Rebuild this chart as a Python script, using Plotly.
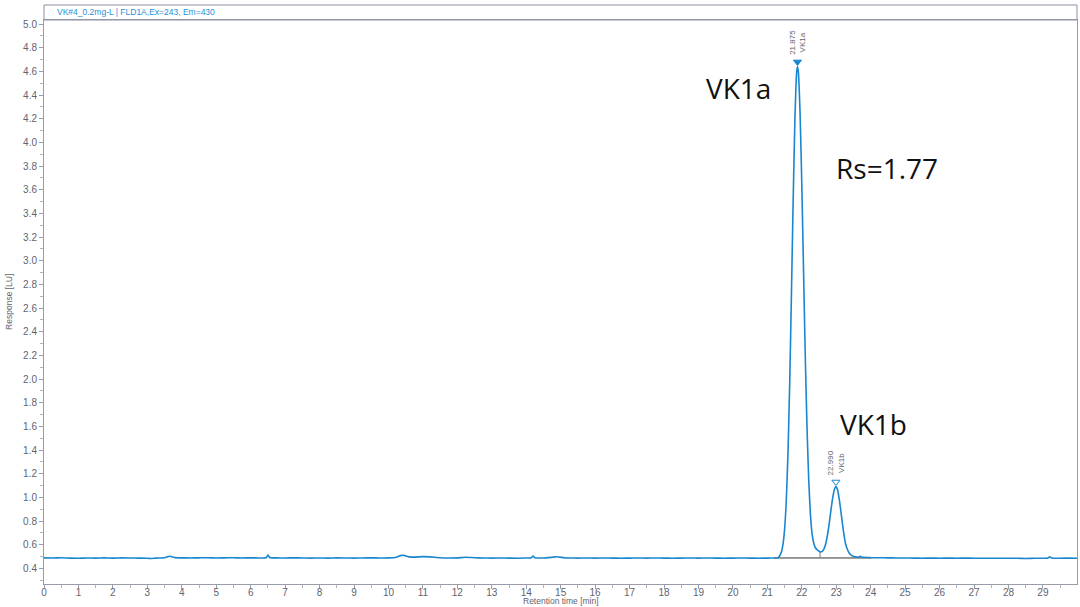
import plotly.graph_objects as go

# baseline before the peaks (min, LU)
base_a_time = [0.0, 0.25, 0.5, 0.75, 1.0, 1.25, 1.5, 1.75, 2.0, 2.25, 2.5, 2.75, 3.0, 3.1, 3.25, 3.5, 3.65, 3.8,
               4.0, 4.25, 4.5, 4.75, 5.0, 5.25, 5.5, 5.75, 6.0, 6.25, 6.45, 6.5, 6.55, 6.75, 7.0, 7.25, 7.5, 7.75,
               8.0, 8.25, 8.5, 8.75, 9.0, 9.25, 9.5, 9.75, 10.0, 10.2, 10.35, 10.45, 10.6, 10.75, 11.0, 11.2, 11.5,
               11.75, 12.0, 12.25, 12.5, 12.75, 13.0, 13.25, 13.5, 13.75, 14.0, 14.15, 14.2, 14.25, 14.5, 14.75,
               14.9, 15.1, 15.25, 15.5, 15.75, 16.0, 16.25, 16.5, 16.75, 17.0, 17.25, 17.5, 17.75, 18.0, 18.25,
               18.5, 18.75, 19.0, 19.25, 19.5, 19.75, 20.0, 20.25, 20.5, 20.75, 21.0, 21.25]
base_a_resp = [0.489, 0.488, 0.490, 0.487, 0.486, 0.488, 0.487, 0.489, 0.487, 0.489, 0.488, 0.487, 0.486, 0.483,
               0.487, 0.490, 0.502, 0.491, 0.489, 0.488, 0.489, 0.490, 0.488, 0.489, 0.490, 0.488, 0.489, 0.488,
               0.490, 0.513, 0.492, 0.489, 0.488, 0.489, 0.488, 0.487, 0.488, 0.487, 0.489, 0.488, 0.487, 0.488,
               0.489, 0.488, 0.489, 0.492, 0.508, 0.510, 0.497, 0.495, 0.499, 0.497, 0.490, 0.488, 0.489, 0.494,
               0.490, 0.488, 0.487, 0.488, 0.487, 0.486, 0.488, 0.489, 0.505, 0.489, 0.488, 0.494, 0.498, 0.490,
               0.488, 0.487, 0.488, 0.487, 0.488, 0.487, 0.486, 0.487, 0.488, 0.487, 0.488, 0.487, 0.486, 0.487,
               0.488, 0.487, 0.488, 0.487, 0.486, 0.487, 0.488, 0.487, 0.486, 0.487, 0.488]

# VK1a / VK1b region
peak_time = [21.3, 21.35, 21.4, 21.45, 21.5, 21.55, 21.6, 21.65, 21.7, 21.75, 21.8, 21.85, 21.875, 21.9, 21.95,
             22.0, 22.05, 22.1, 22.15, 22.2, 22.25, 22.3, 22.35, 22.4, 22.45, 22.5, 22.55, 22.6, 22.65, 22.7,
             22.75, 22.8, 22.85, 22.9, 22.95, 22.99, 23.025, 23.075, 23.125, 23.175, 23.225, 23.275, 23.325,
             23.375, 23.425, 23.475, 23.55, 23.65, 23.7, 23.75]
peak_resp = [0.488, 0.503, 0.531, 0.595, 0.728, 0.975, 1.383, 1.974, 2.72, 3.51, 4.19, 4.59, 4.64, 4.595, 4.25,
             3.65, 2.93, 2.21, 1.61, 1.16, 0.86, 0.69, 0.61, 0.572, 0.556, 0.545, 0.539, 0.545, 0.568, 0.615,
             0.69, 0.787, 0.90, 1.0, 1.07, 1.091, 1.076, 1.009, 0.905, 0.789, 0.685, 0.604, 0.56, 0.53, 0.515,
             0.505, 0.498, 0.494, 0.503, 0.494]

# baseline after the peaks
base_b_time = [23.8, 24.0, 24.25, 24.5, 24.75, 25.0, 25.25, 25.5, 25.75, 26.0, 26.25, 26.5, 26.75, 27.0, 27.25,
               27.5, 27.75, 28.0, 28.25, 28.5, 28.75, 29.0, 29.15, 29.2, 29.25, 29.5, 29.75, 29.99]
base_b_resp = [0.494, 0.491, 0.490, 0.489, 0.488, 0.488, 0.487, 0.486, 0.487, 0.486, 0.487, 0.486, 0.487, 0.486,
               0.485, 0.486, 0.485, 0.486, 0.485, 0.484, 0.485, 0.486, 0.487, 0.498, 0.488, 0.486, 0.487, 0.486]

peak_names = ['VK1a', 'VK1b']
peak_rt = [21.875, 22.990]
peak_mark = [4.68, 1.13]
peak_symbols = ['triangle-down', 'triangle-down-open']

integ_start, integ_end, integ_level = 21.2, 24.0, 0.488
valley_rt, valley_resp = 22.53, 0.539

BLUE = '#1a86d0'
GREY = '#5f6470'

time = base_a_time + peak_time + base_b_time
resp = base_a_resp + peak_resp + base_b_resp

fig = go.Figure()

# integration baseline + drop line
fig.add_trace(go.Scatter(x=[integ_start, integ_end], y=[integ_level, integ_level], mode='lines',
                         line=dict(color='#333333', width=1), showlegend=False, hoverinfo='skip'))
fig.add_trace(go.Scatter(x=[valley_rt, valley_rt], y=[integ_level, valley_resp], mode='lines',
                         line=dict(color='#777777', width=1), showlegend=False, hoverinfo='skip'))

fig.add_trace(go.Scatter(x=time, y=resp, mode='lines', line=dict(color=BLUE, width=1.6, shape='spline', smoothing=0.5),
                         showlegend=False))

for name, rt, ym, sym in zip(peak_names, peak_rt, peak_mark, peak_symbols):
    fig.add_trace(go.Scatter(x=[rt], y=[ym], mode='markers',
                             marker=dict(symbol=sym, size=7, color=BLUE, line=dict(color=BLUE, width=1)),
                             showlegend=False))
    fig.add_annotation(x=rt, y=ym, text=f'{rt:.3f}<br>{name}', textangle=-90, showarrow=False,
                       yanchor='bottom', yshift=5, font=dict(family='Liberation Sans', size=8, color=GREY))

big = dict(family='Open Sans', size=28, color='#111111')
fig.add_annotation(x=20.15, y=4.46, text='VK1a', showarrow=False, font=big)
fig.add_annotation(x=24.48, y=3.78, text='Rs=1.77', showarrow=False, font=big)
fig.add_annotation(x=24.07, y=1.62, text='VK1b', showarrow=False, font=big)

# header box with trace name
fig.add_shape(type='rect', xref='paper', yref='paper', x0=0, x1=1, y0=1, y1=1.0266,
              line=dict(color='#8e92a4', width=1))
fig.add_annotation(xref='paper', yref='paper', x=0.011, y=1.0133, xanchor='left', yanchor='middle',
                   text='VK#4_0.2mg-L | FLD1A,Ex=243, Em=430', showarrow=False,
                   font=dict(family='Liberation Sans', size=8.5, color='#2a8fd6'))

# axis titles placed by hand so they do not push the margins
fig.add_annotation(xref='paper', yref='paper', x=0.5, y=-0.0305, yanchor='middle', text='Retention time [min]',
                   showarrow=False, font=dict(family='Liberation Sans', size=8.5, color=GREY))
fig.add_annotation(xref='paper', yref='paper', x=-0.034, y=0.5, xanchor='center', textangle=-90,
                   text='Response [LU]', showarrow=False, font=dict(family='Liberation Sans', size=8.5, color=GREY))

axis_common = dict(showgrid=False, zeroline=False, showline=True, linecolor='#9a9caa', linewidth=1, mirror=True,
                   ticks='outside', tickcolor='#9a9caa', ticklen=4, automargin=False,
                   tickfont=dict(family='Liberation Sans', size=10, color=GREY))

fig.update_layout(
    width=1080, height=607,
    margin=dict(l=44, r=3, t=20, b=23, autoexpand=False),
    plot_bgcolor='#FFFFFF', paper_bgcolor='#FFFFFF',
    xaxis=dict(range=[0, 29.99], dtick=1, tick0=0, ticklabelstandoff=-5,
               minor=dict(dtick=0.5, ticks='outside', ticklen=3, tickcolor='#b0b2bc'),
               **axis_common),
    yaxis=dict(range=[0.268, 5.034], dtick=0.2, tick0=0, tickformat='.1f',
               minor=dict(dtick=0.1, ticks='outside', ticklen=3, tickcolor='#b0b2bc'),
               **axis_common),
)

# drop the default 8px page margin so the figure sits at the window origin
fig.write_html("out.html", config={'displayModeBar': False},
               post_script="document.body.style.margin='0';")
